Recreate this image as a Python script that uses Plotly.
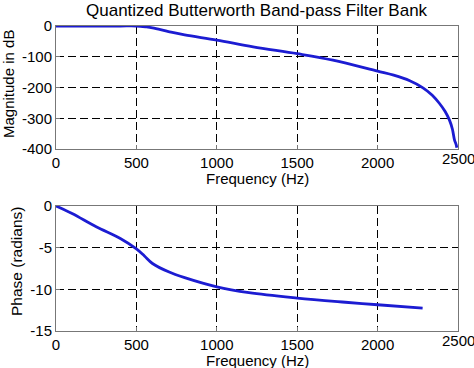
import plotly.graph_objects as go

# Magnitude response (dB)
mag_freq = [0, 200, 400, 500, 560, 600, 700, 800, 1000, 1226, 1500, 1722, 2000, 2100, 2200, 2282, 2340, 2385, 2420, 2447, 2465, 2478, 2488, 2493]
mag_db = [0, 0, 0, 0, -3, -6, -18, -29, -46, -68, -90, -111, -147, -160, -178, -201, -225, -252, -278, -306, -335, -370, -385, -396]

# Phase response (radians)
ph_freq = [0, 100, 250, 400, 500, 550, 600, 700, 800, 1000, 1200, 1500, 1800, 2000, 2280]
ph_rad = [0, -0.9, -2.5, -3.9, -5.15, -6.0, -6.9, -7.9, -8.6, -9.7, -10.4, -11.05, -11.55, -11.85, -12.26]

x_ticks = [0, 500, 1000, 1500, 2000, 2500]
mag_ticks = [0, -100, -200, -300, -400]
ph_ticks = [0, -5, -10, -15]

line_color = "#1c1cd2"
font = "Liberation Sans, Arial, sans-serif"

fig = go.Figure()
fig.add_trace(go.Scatter(x=mag_freq, y=mag_db, mode="lines", line=dict(color=line_color, width=2.8, shape="spline"),
                         xaxis="x", yaxis="y", showlegend=False, hoverinfo="skip"))
fig.add_trace(go.Scatter(x=ph_freq, y=ph_rad, mode="lines", line=dict(color=line_color, width=2.8, shape="spline"),
                         xaxis="x2", yaxis="y2", showlegend=False, hoverinfo="skip"))

axis_common = dict(showline=True, mirror=True, linecolor="#777777", linewidth=1, automargin=False,
                   showgrid=True, gridcolor="black", griddash="8px,4px", gridwidth=1,
                   zeroline=False, ticks="inside", ticklen=4, tickcolor="#777777",
                   tickfont=dict(size=15, color="black", family=font))

# The last x tick label (2500) overflows the right edge in the reference; plotly drops such
# labels, so it is drawn at the axis value as an annotation that is allowed to be clipped.
last_x = x_ticks[-1]
edge_labels = [
    dict(text=str(last_x), x=last_x, xref="x", y=1-158/368, yref="paper", showarrow=False,
         font=dict(size=15, family=font, color="black"), xanchor="center", yanchor="middle"),
    dict(text=str(last_x), x=last_x, xref="x2", y=1-340/368, yref="paper", showarrow=False,
         font=dict(size=15, family=font, color="black"), xanchor="center", yanchor="middle"),
]

fig.update_layout(
    width=474, height=368,
    margin=dict(l=0, r=0, t=0, b=0),
    paper_bgcolor="white", plot_bgcolor="white",
    font=dict(family=font, color="black"),
    xaxis=dict(domain=[56/474, 458/474], range=[0, 2500], tickvals=x_ticks[:-1],
               ticktext=[str(v) for v in x_ticks[:-1]], anchor="y", **axis_common),
    yaxis=dict(domain=[1-149/368, 1-26/368], range=[-400, 0], tickvals=mag_ticks,
               ticktext=[str(v) for v in mag_ticks], anchor="x", **axis_common),
    xaxis2=dict(domain=[56/474, 458/474], range=[0, 2500], tickvals=x_ticks[:-1],
                ticktext=[str(v) for v in x_ticks[:-1]], anchor="y2", **axis_common),
    yaxis2=dict(domain=[1-331/368, 1-206/368], range=[-15, 0], tickvals=ph_ticks,
                ticktext=[str(v) for v in ph_ticks], anchor="x2", **axis_common),
    annotations=[
        dict(text="Quantized Butterworth Band-pass Filter Bank", x=257/474, y=1-11/368, xref="paper", yref="paper",
             showarrow=False, font=dict(size=17, family=font, color="black"), xanchor="center", yanchor="middle"),
        dict(text="Frequency (Hz)", x=257/474, y=1-178/368, xref="paper", yref="paper",
             showarrow=False, font=dict(size=15, family=font, color="black"), xanchor="center", yanchor="middle"),
        dict(text="Frequency (Hz)", x=257/474, y=1-360/368, xref="paper", yref="paper",
             showarrow=False, font=dict(size=15, family=font, color="black"), xanchor="center", yanchor="middle"),
        dict(text="Magnitude in dB", x=8/474, y=1-84/368, xref="paper", yref="paper", textangle=-90,
             showarrow=False, font=dict(size=15, family=font, color="black"), xanchor="center", yanchor="middle"),
        dict(text="Phase (radians)", x=16/474, y=1-262/368, xref="paper", yref="paper", textangle=-90,
             showarrow=False, font=dict(size=15.5, family=font, color="black"), xanchor="center", yanchor="middle"),
    ] + edge_labels,
)

fig.write_html("out.html", config={"displayModeBar": False, "staticPlot": True},
               post_script="document.body.style.margin='0';document.body.style.overflow='hidden';")
